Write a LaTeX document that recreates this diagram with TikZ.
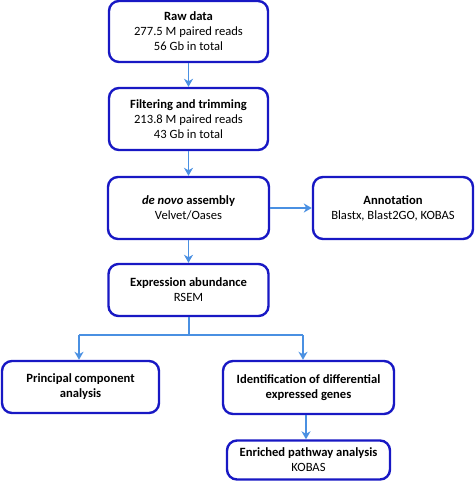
\documentclass[tikz,border=0pt]{standalone}
\usepackage{fontspec}
\setmainfont{Carlito}
\usetikzlibrary{arrows.meta}
\definecolor{boxblue}{RGB}{24,24,196}
\definecolor{arrblue}{RGB}{74,144,226}
\begin{document}
\begin{tikzpicture}[x=1pt,y=-1pt,
  box/.style={draw=boxblue,line width=2.4pt,rounded corners=10pt,fill=white,
    align=center,inner sep=2pt,font=\fontsize{12.6}{15}\selectfont},
  arr/.style={draw=arrblue,line width=1.9pt,-{Stealth[length=8pt,width=9pt,inset=2.5pt]}},
  ln/.style={draw=arrblue,line width=1.9pt}]
\useasboundingbox (0,0) rectangle (474,481);
\node[box,minimum width=159pt,minimum height=61pt] (raw) at (188.5,31.5)
  {\textbf{Raw data}\\277.5 M paired reads\\56 Gb in total};
\node[box,minimum width=159pt,minimum height=62pt] (filt) at (188.5,119)
  {\textbf{Filtering and trimming}\\213.8 M paired reads\\43 Gb in total};
\node[box,minimum width=161pt,minimum height=62pt] (denovo) at (188.5,208)
  {\textbf{\textit{de novo} assembly}\\Velvet/Oases};
\node[box,minimum width=160pt,minimum height=62pt] (annot) at (393,208)
  {\textbf{Annotation}\\Blastx, Blast2GO, KOBAS};
\node[box,minimum width=160pt,minimum height=52pt] (expr) at (188.5,290)
  {\textbf{Expression abundance}\\RSEM};
\node[box,minimum width=157pt,minimum height=52pt] (pca) at (80.5,387)
  {\textbf{Principal component}\\\textbf{analysis}};
\node[box,minimum width=171pt,minimum height=53pt] (ident) at (308.5,387.5)
  {\textbf{Identification of differential}\\\textbf{expressed genes}};
\node[box,minimum width=163pt,minimum height=39pt] (enr) at (308.5,460)
  {\textbf{Enriched pathway analysis}\\KOBAS};
\coordinate (split) at (189,335);
\coordinate (lft) at (79,335);
\coordinate (rgt) at (303,335);
\draw[arr] (raw.south) -- (filt.north);
\draw[arr] (filt.south) -- (denovo.north);
\draw[arr] (denovo.east) -- (annot.west);
\draw[arr] (denovo.south) -- (expr.north);
\draw[ln] (expr.south -| split) -- (split);
\draw[ln] (lft) -- (rgt);
\draw[arr] (lft) -- (lft |- pca.north);
\draw[arr] (rgt) -- (rgt |- ident.north);
\draw[arr] (ident.south -| 306,0) -- (enr.north -| 306,0);
\end{tikzpicture}
\end{document}
